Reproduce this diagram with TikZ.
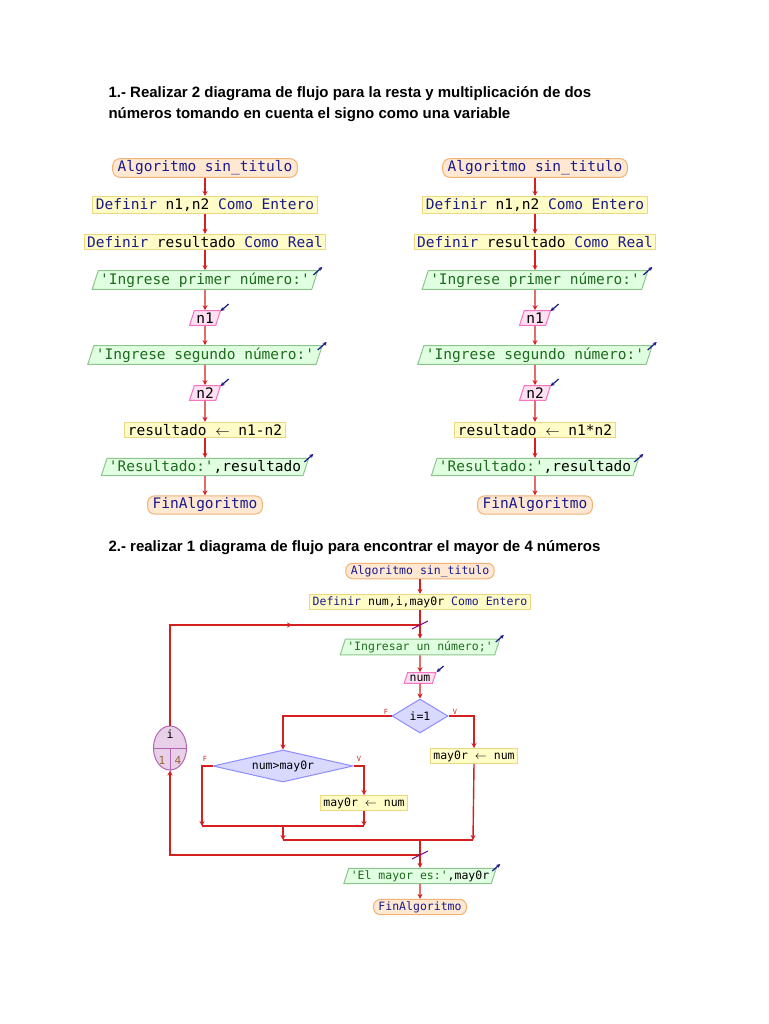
\documentclass[tikz,border=0pt]{standalone}
\usepackage{fontspec}
\setmainfont{Liberation Sans}
\setmonofont{DejaVu Sans Mono}
\usetikzlibrary{shapes.geometric,arrows.meta}
\definecolor{kwc}{HTML}{1A1A8C}
\definecolor{strc}{HTML}{1E6A1E}
\definecolor{arrc}{HTML}{D42020}
\newcommand\kw[1]{\textcolor{kwc}{#1}}
\newcommand\st[1]{\textcolor{strc}{#1}}
\begin{document}
\begin{tikzpicture}[x=1pt,y=-1pt,
  big/.style={font=\ttfamily\fontsize{14.5}{16}\selectfont},
  small/.style={font=\ttfamily\fontsize{11.5}{13}\selectfont},
  term/.style={draw=orange!60!brown!60, fill=orange!18, rounded corners=7pt, inner xsep=5pt, inner ysep=2pt, line width=1pt, text=kwc},
  proc/.style={draw=yellow!50!brown!60, fill=yellow!22, inner xsep=3pt, inner ysep=2pt, line width=1pt},
  io/.style={trapezium, trapezium left angle=72, trapezium right angle=108, draw=green!50!black!45, fill=green!12, inner xsep=2pt, inner ysep=2pt, line width=1pt},
  inp/.style={trapezium, trapezium left angle=72, trapezium right angle=108, draw=magenta!55, fill=magenta!12, inner xsep=2pt, inner ysep=2pt, line width=1pt},
  dia/.style={diamond, aspect=#1, draw=blue!45, fill=blue!15, inner sep=1pt, line width=1pt},
  arr/.style={draw=arrc, line width=1.4pt, -{Stealth[length=5pt,width=5pt]}},
  ln/.style={draw=arrc, line width=1.4pt},
  outm/.style={kwc, line width=1.2pt, -{Stealth[length=4pt,width=4pt]}},
]
\useasboundingbox (0,0) rectangle (768,1024);
\fill[white] (0,0) rectangle (768,1024);
\node[anchor=west, align=left, font=\bfseries\fontsize{15}{21}\selectfont] (t1) at (105,104) {1.- Realizar 2 diagrama de flujo para la resta y multiplicación de dos\\números tomando en cuenta el signo como una variable};
\node[anchor=west, font=\bfseries\fontsize{15}{17}\selectfont] (t2) at (105,548) {2.- realizar 1 diagrama de flujo para encontrar el mayor de 4 números};

% ---------- left and right charts
\foreach \p/\cx/\op in {L/205/n1-n2, R/535/n1*n2}{
  \node[term,big] (\p s) at (\cx,168) {Algoritmo sin\_titulo};
  \node[proc,big] (\p d1) at (\cx,205) {\kw{Definir} n1,n2 \kw{Como Entero}};
  \node[proc,big] (\p d2) at (\cx,242) {\kw{Definir} resultado \kw{Como Real}};
  \node[io,big] (\p i1) at (\cx,280) {\st{'Ingrese primer número:'}};
  \node[inp,big] (\p n1) at (\cx,318) {n1};
  \node[io,big] (\p i2) at (\cx,355) {\st{'Ingrese segundo número:'}};
  \node[inp,big] (\p n2) at (\cx,393) {n2};
  \node[proc,big] (\p a) at (\cx,430) {resultado $\leftarrow$ \op};
  \node[io,big] (\p o) at (\cx,467) {\st{'Resultado:'},resultado};
  \node[term,big] (\p e) at (\cx,505) {FinAlgoritmo};
  \draw[arr] (\p s) -- (\p d1);
  \draw[arr] (\p d1) -- (\p d2);
  \draw[arr] (\p d2) -- (\p i1);
  \draw[arr] (\p i1) -- (\p n1);
  \draw[arr] (\p n1) -- (\p i2);
  \draw[arr] (\p i2) -- (\p n2);
  \draw[arr] (\p n2) -- (\p a);
  \draw[arr] (\p a) -- (\p o);
  \draw[arr] (\p o) -- (\p e);
  \foreach \q in {i1,i2,o}{\draw[outm] ([xshift=-2pt,yshift=5pt]\p\q.east) -- ++(9,-8);}
  \foreach \q in {n1,n2}{\draw[outm] ([xshift=10pt,yshift=14pt]\p\q.east) -- ++(-8,7);}
}

% ---------- bottom chart
\node[term,small] (bs) at (420,571) {Algoritmo sin\_titulo};
\node[proc,small] (bd) at (420,602) {\kw{Definir} num,i,may0r \kw{Como Entero}};
\coordinate (j1) at (420,625);
\node[io,small] (bi) at (420,647) {\st{'Ingresar un número;'}};
\node[inp,small] (bn) at (420,678) {num};
\node[dia=1.6,small,minimum width=56pt,minimum height=34pt] (c1) at (420,716) {i=1};
\node[proc,small] (a1) at (474,756) {may0r $\leftarrow$ num};
\node[dia=4.3,small,minimum width=140pt,minimum height=32pt] (c2) at (283,766) {num>may0r};
\node[proc,small] (a2) at (364,803) {may0r $\leftarrow$ num};
\coordinate (m1) at (283,826);
\coordinate (m2) at (420,840);
\coordinate (j2) at (420,855);
\node[io,small] (bo) at (420,876) {\st{'El mayor es:'},may0r};
\node[term,small] (be) at (420,907) {FinAlgoritmo};
\node[ellipse, draw=violet!60, fill=violet!18, line width=1pt, minimum width=33pt, minimum height=44pt] (lp) at (170,748) {};
\draw[violet!60, line width=1pt] (lp.west |- 0,748) -- (lp.east |- 0,748);
\draw[violet!60, line width=1pt] (170,748) -- (lp.south);
\node[font=\ttfamily\fontsize{11.5}{13}\selectfont, text=black] (li) at (170,734) {i};
\node[font=\ttfamily\fontsize{11}{13}\selectfont, text=brown!80!black] (l1) at (162,760) {1};
\node[font=\ttfamily\fontsize{11}{13}\selectfont, text=brown!80!black] (l4) at (178,760) {4};

\draw[arr] (bs) -- (bd);
\draw[ln] (bd) -- (j1);
\draw[arr] (j1) -- (bi);
\draw[arr] (bi) -- (bn);
\draw[arr] (bn) -- (c1);
\draw[arr] (c1.east) -| (a1.north);
\draw[arr] (c1.west) -| (c2.north);
\draw[arr] (c2.east) -| (a2.north);
\draw[arr] (c2.west) -| ([xshift=-81pt]m1);
\draw[ln] ([xshift=-81pt]m1) -- ([xshift=81pt]m1);
\draw[arr] (a2.south) -- ([xshift=81pt]m1);
\draw[arr] (m1) -- (m1 |- m2);
\draw[ln] (m1 |- m2) -- ([xshift=53pt]m2);
\draw[arr] (a1.south) -- ([xshift=53pt]m2);
\draw[ln] (m2) -- (j2);
\draw[arr] (j2) -- (bo);
\draw[arr] (bo) -- (be);
\draw[arr] (j2) -| (lp.south);
\draw[ln] (lp.north) |- (j1);
\draw[arr] (lp.north |- j1) -- (292,625);
\draw[violet, line width=1pt] (412,629) -- (428,621);
\draw[violet, line width=1pt] (412,859) -- (428,851);
\draw[outm] ([xshift=-2pt,yshift=5pt]bi.east) -- ++(8,-7);
\draw[outm] ([xshift=-2pt,yshift=5pt]bo.east) -- ++(8,-7);
\draw[outm] ([xshift=9pt,yshift=12pt]bn.east) -- ++(-7,6);
\node[font=\ttfamily\fontsize{7}{8}\selectfont, text=arrc] (f1) at (386,712) {F};
\node[font=\ttfamily\fontsize{7}{8}\selectfont, text=arrc] (v1) at (455,712) {V};
\node[font=\ttfamily\fontsize{7}{8}\selectfont, text=arrc] (f2) at (205,759) {F};
\node[font=\ttfamily\fontsize{7}{8}\selectfont, text=arrc] (v2) at (359,759) {V};
\end{tikzpicture}
\end{document}
